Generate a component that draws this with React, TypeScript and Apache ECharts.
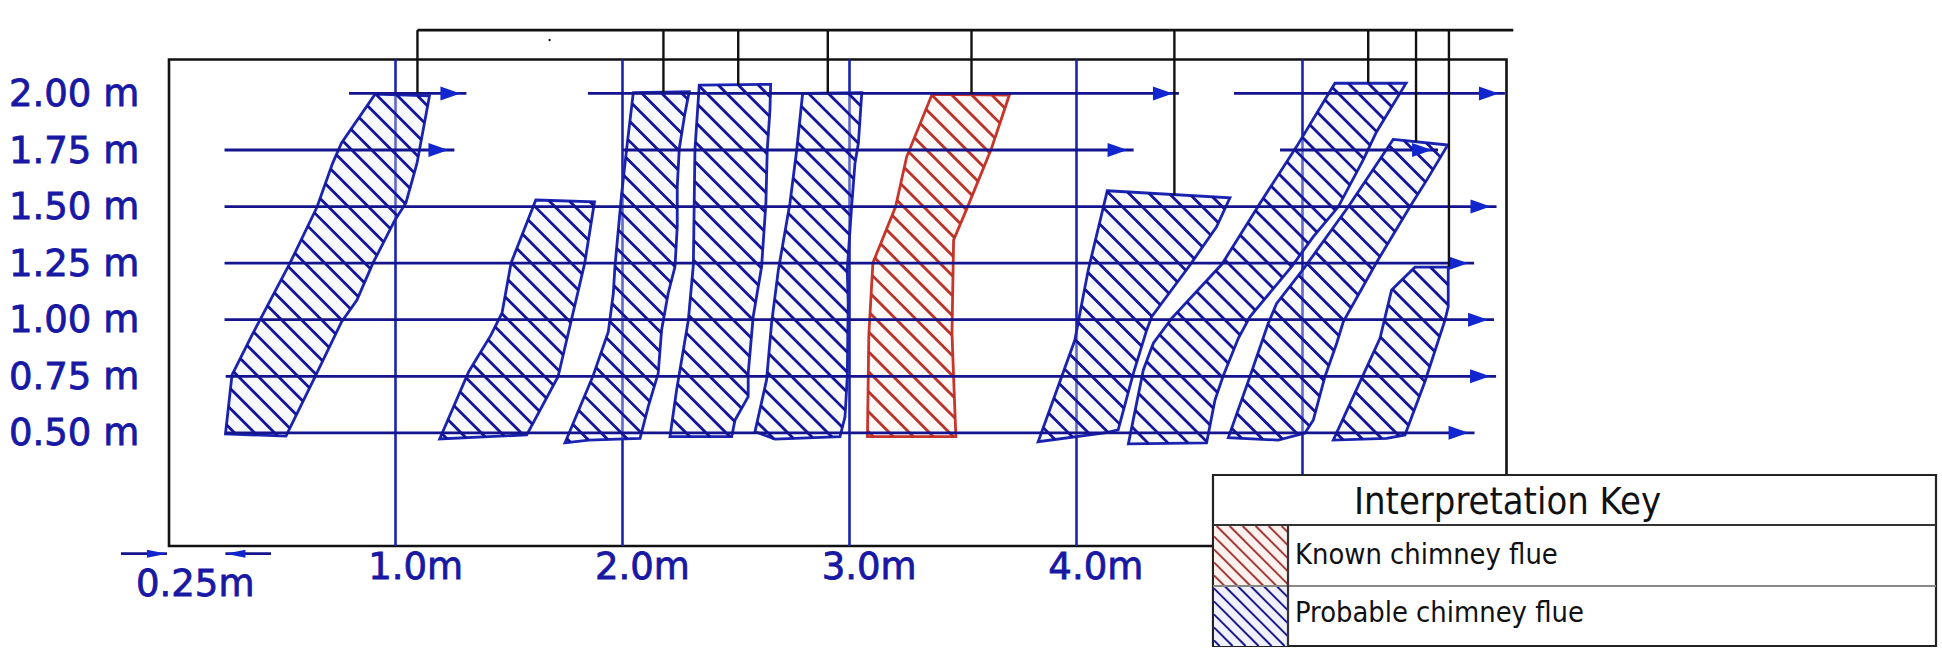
import React, { useRef, useEffect } from 'react'
import * as echarts from 'echarts'

// all outlines in metres: [distance along wall, height]
const probableFlues: number[][][] = [
  [[0.909, 1.997], [1.149, 1.989], [1.094, 1.692], [1.045, 1.516], [0.997, 1.441], [0.9, 1.251], [0.829, 1.087], [0.761, 0.99], [0.644, 0.747], [0.516, 0.486], [0.249, 0.495], [0.278, 0.756], [0.366, 0.932], [0.534, 1.251], [0.653, 1.498], [0.722, 1.692], [0.761, 1.781]],
  [[1.618, 1.529], [1.877, 1.521], [1.834, 1.251], [1.775, 0.999], [1.716, 0.748], [1.578, 0.491], [1.194, 0.473], [1.322, 0.77], [1.42, 0.932], [1.469, 1.03], [1.509, 1.251]],
  [[2.048, 2.003], [2.295, 2.008], [2.276, 1.913], [2.251, 1.757], [2.242, 1.588], [2.242, 1.411], [2.232, 1.234], [2.202, 1.117], [2.173, 0.955], [2.158, 0.763], [2.114, 0.616], [2.078, 0.476], [1.85, 0.468], [1.747, 0.456], [1.872, 0.756], [1.938, 0.947], [1.96, 1.117], [1.967, 1.234], [1.997, 1.559], [2.019, 1.757]],
  [[2.339, 2.037], [2.654, 2.04], [2.651, 1.927], [2.639, 1.75], [2.633, 1.514], [2.614, 1.234], [2.577, 1.013], [2.555, 0.763], [2.555, 0.66], [2.497, 0.557], [2.482, 0.483], [2.21, 0.483], [2.239, 0.689], [2.291, 0.999], [2.313, 1.242], [2.32, 1.75]],
  [[2.795, 2.0], [3.056, 2.003], [3.041, 1.78], [3.026, 1.691], [3.011, 1.499], [2.992, 1.22], [2.996, 1.074], [2.992, 0.748], [2.982, 0.571], [2.96, 0.483], [2.673, 0.472], [2.585, 0.505], [2.636, 0.734], [2.658, 0.984], [2.688, 1.22], [2.739, 1.514], [2.769, 1.75]],
  [[4.139, 1.57], [4.68, 1.539], [4.621, 1.411], [4.504, 1.242], [4.335, 1.013], [4.313, 0.955], [4.254, 0.763], [4.187, 0.513], [4.136, 0.501], [3.834, 0.461], [3.996, 0.91], [4.018, 1.028], [4.055, 1.22]],
  [[5.143, 2.045], [5.457, 2.045], [5.327, 1.831], [5.268, 1.706], [5.158, 1.499], [5.048, 1.367], [4.954, 1.237], [4.768, 1.013], [4.717, 0.918], [4.649, 0.748], [4.614, 0.645], [4.577, 0.456], [4.232, 0.451], [4.298, 0.778], [4.342, 0.896], [4.423, 1.006], [4.645, 1.246], [4.812, 1.514], [4.974, 1.765]],
  [[5.4, 1.797], [5.641, 1.772], [5.548, 1.617], [5.474, 1.499], [5.32, 1.242], [5.18, 0.991], [5.151, 0.896], [5.099, 0.748], [5.048, 0.557], [5.011, 0.499], [4.893, 0.468], [4.673, 0.479], [4.768, 0.748], [4.849, 0.984], [4.886, 1.072], [5.007, 1.228], [5.202, 1.499]],
  [[5.496, 1.232], [5.643, 1.232], [5.643, 1.057], [5.629, 0.999], [5.54, 0.726], [5.452, 0.491], [5.371, 0.476], [5.136, 0.468], [5.268, 0.756], [5.342, 0.918], [5.393, 1.131]],
]
const knownFlues: number[][][] = [
  [[3.366, 1.996], [3.707, 1.993], [3.628, 1.757], [3.52, 1.492], [3.461, 1.352], [3.454, 0.941], [3.461, 0.748], [3.471, 0.483], [3.081, 0.483], [3.087, 0.932], [3.105, 1.251], [3.205, 1.499], [3.254, 1.72]],
]

// survey lines: [height, start, end]
const surveyLines = [
  [2.0, 0.794, 1.312],
  [2.0, 1.848, 4.455],
  [2.0, 4.698, 5.893],
  [1.75, 0.245, 1.259],
  [1.75, 2.003, 4.255],
  [1.75, 4.901, 5.598],
  [1.5, 0.245, 5.856],
  [1.25, 0.245, 5.757],
  [1.0, 0.245, 5.845],
  [0.75, 0.25, 5.854],
  [0.5, 0.25, 5.759],
]
const spacingArrows = [
  [-0.034, -0.212, -0.009],
  [-0.034, 0.45, 0.249],
]

// black leaders: [distance, lower end]
const leaders = [
  [1.096, 2.002],
  [2.181, 2.006],
  [2.511, 2.037],
  [2.906, 2.002],
  [3.54, 1.997],
  [4.435, 1.551],
  [5.29, 2.046],
  [5.501, 1.787],
  [5.646, 1.233],
]
const railHeight = 2.28
const railSpan = [1.096, 5.93]

const xTickLabels = ['', '1.0m', '2.0m', '3.0m', '4.0m']
const yTickLabels = ['', '', '0.50 m', '0.75 m', '1.00 m', '1.25 m', '1.50 m', '1.75 m', '2.00 m']

const BLUE = '#1818a4'
const EDGE = '#1a24b0'
const HATCH = '#14149a'
const NAVY = '#14148e'
const RED = '#c8352a'
const ARROW = '#1226d0'
const BLACK = '#111111'
const FONT = '"DejaVu Sans"'
const KEY_FONT = '"DejaVu Sans Condensed", "DejaVu Sans"'

const HATCH_SLOPE = 1
const HATCH_GAP = 20
// offset of each flue's hatching, the flues were drawn one by one
const probablePhases = [18.3, 11.7, 11.6, 6.7, 5, 4.4, 15, 16.6, 16.7]
const knownPhases = [3.2]

// clip the hatch lines to a polygon given in pixels
function hatchSegments(pts: number[][], gap: number, phase: number) {
  const cs = pts.map((p) => p[1] - HATCH_SLOPE * p[0])
  const out: number[][][] = []
  const start = Math.ceil((Math.min(...cs) - phase) / gap)
  for (let k = start; phase + k * gap < Math.max(...cs); k++) {
    const c = phase + k * gap
    const xs: number[] = []
    pts.forEach((a, i) => {
      const b = pts[(i + 1) % pts.length]
      const ca = a[1] - HATCH_SLOPE * a[0]
      const cb = b[1] - HATCH_SLOPE * b[0]
      if (ca < c !== cb < c) {
        const t = (c - ca) / (cb - ca)
        xs.push(a[0] + (b[0] - a[0]) * t)
      }
    })
    xs.sort((u, v) => u - v)
    for (let i = 0; i + 1 < xs.length; i += 2) {
      out.push([
        [xs[i], HATCH_SLOPE * xs[i] + c],
        [xs[i + 1], HATCH_SLOPE * xs[i + 1] + c],
      ])
    }
  }
  return out
}

const flueRenderer = (flues: number[][][], phases: number[], edge: string, hatch: string, tint: string) => (params: any, api: any) => {
  const pts = flues[params.dataIndex].map((p) => api.coord(p))
  const children: any[] = [
    {
      type: 'polygon',
      shape: { points: pts },
      style: { fill: tint, stroke: edge, lineWidth: 2.8 },
    },
  ]
  hatchSegments(pts, HATCH_GAP, phases[params.dataIndex]).forEach((s) => {
    children.push({
      type: 'line',
      shape: { x1: s[0][0], y1: s[0][1], x2: s[1][0], y2: s[1][1] },
      style: { stroke: hatch, lineWidth: 2.8 },
    })
  })
  return { type: 'group', children }
}

const arrowRenderer = (rows: number[][], headLen: number, headHalf: number, inset: number) => (params: any, api: any) => {
  const r = rows[params.dataIndex]
  const a = api.coord([r[1], r[0]])
  const b = api.coord([r[2], r[0]])
  const dir = b[0] > a[0] ? 1 : -1
  const tip = b[0] - dir * inset
  return {
    type: 'group',
    children: [
      {
        type: 'line',
        shape: { x1: a[0], y1: a[1], x2: b[0], y2: b[1] },
        style: { stroke: NAVY, lineWidth: 2.8 },
      },
      {
        type: 'polygon',
        shape: {
          points: [
            [tip, a[1]],
            [tip - dir * headLen, a[1] - headHalf],
            [tip - dir * headLen, a[1] + headHalf],
          ],
        },
        style: { fill: ARROW },
      },
    ],
  }
}

const leaderRenderer = (params: any, api: any) => {
  const r = leaders[params.dataIndex]
  const a = api.coord([r[0], railHeight])
  const b = api.coord([r[0], r[1]])
  return {
    type: 'line',
    shape: { x1: a[0], y1: a[1], x2: b[0], y2: b[1] },
    style: { stroke: BLACK, lineWidth: 2.4 },
  }
}

const railRenderer = (params: any, api: any) => {
  const a = api.coord([railSpan[0], railHeight])
  const b = api.coord([railSpan[1], railHeight])
  return {
    type: 'line',
    shape: { x1: a[0], y1: a[1], x2: b[0], y2: b[1] },
    style: { stroke: BLACK, lineWidth: 2.6 },
  }
}

function keySwatch(x: number, y: number, w: number, h: number, fill: string, stroke: string) {
  const rect = [[x, y], [x + w, y], [x + w, y + h], [x, y + h]]
  const els: any[] = [
    { type: 'rect', z: 101, shape: { x, y, width: w, height: h }, style: { fill } },
  ]
  hatchSegments(rect, 13, 11.4).forEach((s) => {
    els.push({
      type: 'line',
      z: 102,
      shape: { x1: s[0][0], y1: s[0][1], x2: s[1][0], y2: s[1][1] },
      style: { stroke, lineWidth: 2 },
    })
  })
  return els
}

const keyLine = (x1: number, y1: number, x2: number, y2: number, stroke: string) => ({
  type: 'line',
  z: 103,
  shape: { x1, y1, x2, y2 },
  style: { stroke, lineWidth: 2.2 },
})

const keyText = (text: string, x: number, y: number, fontSize: number) => ({
  type: 'text',
  z: 103,
  x,
  y,
  style: { text, fill: '#111', font: `${fontSize}px ${KEY_FONT}`, verticalAlign: 'middle' },
})

const graphicElements = [
  { type: 'rect', z: 100, shape: { x: 1213, y: 475, width: 723, height: 171 }, style: { fill: '#fff', stroke: '#222', lineWidth: 2.2 } },
  ...keySwatch(1214, 526, 74, 60, '#fdf1ed', '#a33b3b'),
  ...keySwatch(1214, 586, 74, 60, '#f1f1fd', '#1c1c8c'),
  keyLine(1213, 525, 1936, 525, '#333'),
  keyLine(1213, 586, 1936, 586, '#888'),
  keyLine(1288, 525, 1288, 646, '#333'),
  keyText('Interpretation Key', 1354, 501, 37.8),
  keyText('Known chimney flue', 1295, 554, 28.8),
  keyText('Probable chimney flue', 1295, 612, 28.8),
  {
    type: 'text',
    x: 136,
    y: 583,
    style: { text: '0.25m', fill: BLUE, font: `37px ${FONT}`, verticalAlign: 'middle', stroke: BLUE, lineWidth: 0.8 },
  },
  { type: 'circle', shape: { cx: 549.6, cy: 40, r: 1.2 }, style: { fill: BLACK } },
]

const App: React.FC = () => {
  const chartRef = useRef<HTMLDivElement>(null)

  useEffect(() => {
    if (!chartRef.current) return
    const chart = echarts.init(chartRef.current, undefined, { renderer: 'svg' })

    const option = {
      animation: false,
      backgroundColor: '#fff',
      grid: {
        show: true,
        left: 169,
        top: 59.5,
        width: 1337.5,
        height: 486.5,
        borderColor: BLACK,
        borderWidth: 2.6,
      },
      xAxis: {
        type: 'value',
        min: 0,
        max: 5.9,
        interval: 1,
        axisLine: { show: false },
        axisTick: { show: false },
        axisLabel: {
          color: BLUE,
          fontFamily: FONT,
          fontSize: 37,
          margin: 2,
          showMaxLabel: false,
          padding: [0, 0, 0, 40],
          textBorderColor: BLUE,
          textBorderWidth: 0.8,
          formatter: (v: number) => xTickLabels[Math.round(v)] ?? '',
        },
        splitLine: { show: true, showMinLine: false, showMaxLine: false, lineStyle: { color: EDGE, width: 2.6 } },
      },
      yAxis: {
        type: 'value',
        min: 0,
        max: 2.15,
        interval: 0.25,
        axisLine: { show: false },
        axisTick: { show: false },
        splitLine: { show: false },
        axisLabel: {
          color: BLUE,
          fontFamily: FONT,
          fontSize: 37,
          align: 'left',
          margin: 160,
          showMaxLabel: false,
          textBorderColor: BLUE,
          textBorderWidth: 0.8,
          formatter: (v: number) => yTickLabels[Math.round(v / 0.25)] ?? '',
        },
      },
      graphic: graphicElements,
      series: [
        { type: 'custom', name: 'Probable chimney flue', renderItem: flueRenderer(probableFlues, probablePhases, EDGE, HATCH, 'rgba(232,238,250,0.35)'), data: probableFlues.map((f) => f[0]) },
        { type: 'custom', name: 'Known chimney flue', renderItem: flueRenderer(knownFlues, knownPhases, RED, '#b8332a', 'rgba(252,238,232,0.4)'), data: knownFlues.map((f) => f[0]) },
        { type: 'custom', name: 'Survey lines', renderItem: arrowRenderer(surveyLines, 20, 7, 6), data: surveyLines.map((r) => [r[1], r[0]]) },
        { type: 'custom', name: 'Spacing', renderItem: arrowRenderer(spacingArrows, 20, 4, 0), data: spacingArrows.map((r) => [r[1], r[0]]) },
        { type: 'custom', name: 'Leaders', renderItem: leaderRenderer, data: leaders },
        { type: 'custom', name: 'Rail', renderItem: railRenderer, data: [[railSpan[0], railHeight]] },
      ],
    }

    chart.setOption(option)

    return () => {
      chart.dispose()
    }
  }, [])

  return <div ref={chartRef} style={{ position: 'fixed', left: 0, top: 0, width: '1942px', height: '670px' }} />
}

export default App
